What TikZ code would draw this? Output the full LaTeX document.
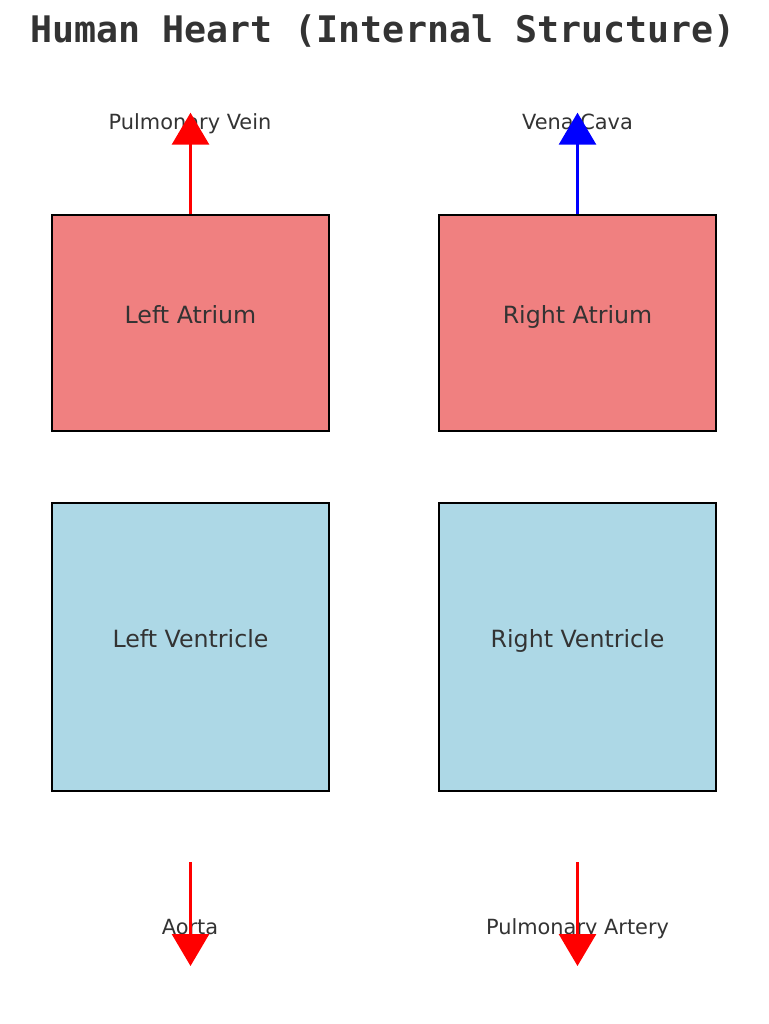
\documentclass[tikz,border=0pt]{standalone}
\usepackage{fontspec}
\setmainfont{DejaVu Sans}
\newfontfamily\titlefont{DejaVu Sans Mono}
\usetikzlibrary{arrows.meta}
\definecolor{txt}{RGB}{51,51,51}
\definecolor{atriumfill}{HTML}{F08080}
\definecolor{ventfill}{HTML}{ADD8E6}
\tikzset{
  chamber/.style={draw=black, line width=2pt, minimum width=277pt, inner sep=0pt,
    text=txt, font=\fontsize{23.7}{23.7}\selectfont, text height=8pt, text depth=8pt},
  atriumbox/.style={chamber, fill=atriumfill, minimum height=216pt},
  ventbox/.style={chamber, fill=ventfill, minimum height=288pt},
  vessellabel/.style={anchor=base, text=txt, inner sep=0pt, font=\fontsize{20.9}{20.9}\selectfont},
  flow/.style={line width=3pt, -{Triangle[width=37pt,length=32pt]}}
}
\begin{document}
\begin{tikzpicture}[x=1pt,y=-1pt]
\useasboundingbox (0,0) rectangle (768,1024);
\node[anchor=base, inner sep=0pt, text=txt, font=\titlefont\bfseries\fontsize{36.6}{36.6}\selectfont] (title) at (383,42.3) {Human Heart (Internal Structure)};

\node[atriumbox] (la) at (190.5,323) {Left Atrium};
\node[atriumbox] (ra) at (577.5,323) {Right Atrium};
\node[ventbox] (lv) at (190.5,647) {Left Ventricle};
\node[ventbox] (rv) at (577.5,647) {Right Ventricle};

\node[vessellabel] (pvl) at (190,129.3) {Pulmonary Vein};
\node[vessellabel] (vcl) at (577.5,129.3) {Vena Cava};
\node[vessellabel] (aol) at (190,934.3) {Aorta};
\node[vessellabel] (pal) at (577.5,934.3) {Pulmonary Artery};

\coordinate (pvtip) at (190.5,112.7);
\coordinate (vctip) at (577.5,112.7);
\coordinate (aostart) at (190.5,862);
\coordinate (aotip) at (190.5,966);
\coordinate (pastart) at (577.5,862);
\coordinate (patip) at (577.5,966);

\draw[flow, red] (la.north) -- (pvtip);
\draw[flow, blue] (ra.north) -- (vctip);
\draw[flow, red] (aostart) -- (aotip);
\draw[flow, red] (pastart) -- (patip);
\end{tikzpicture}
\end{document}
